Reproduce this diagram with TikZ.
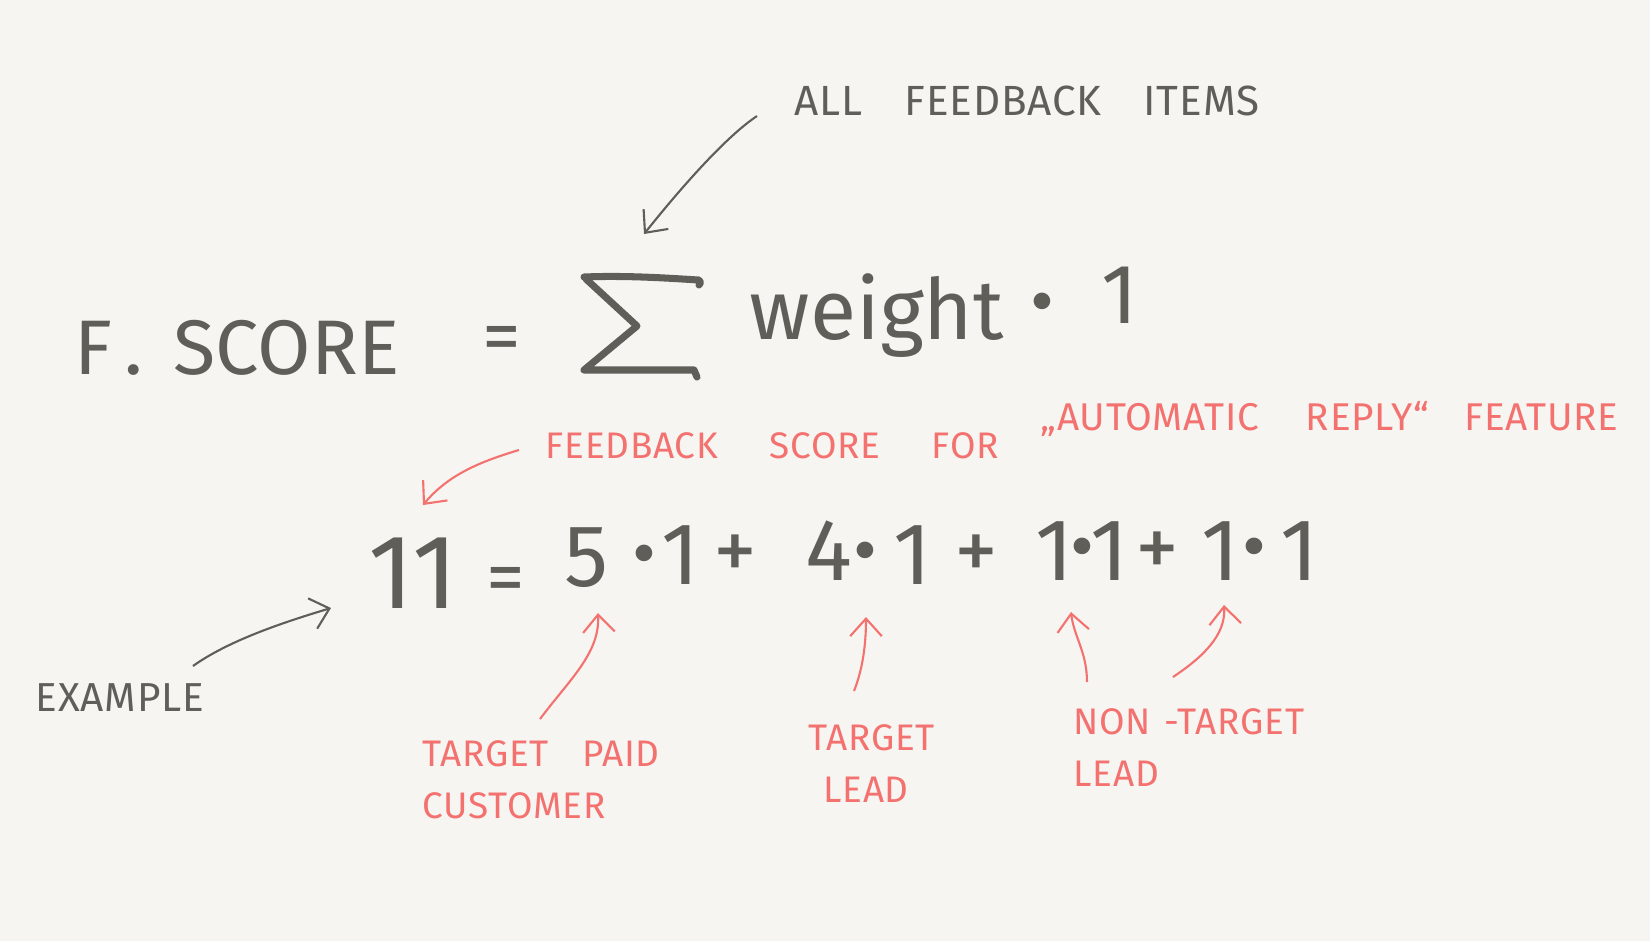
\documentclass[tikz,border=0pt]{standalone}
\usepackage{fontspec}
\setmainfont{Fira Sans}
\newfontfamily\labfont[LetterSpace=2]{Fira Sans}
\usetikzlibrary{arrows.meta}
\definecolor{ink}{RGB}{95,94,89}
\definecolor{redink}{RGB}{243,114,112}
\definecolor{paper}{RGB}{246,245,241}
\begin{document}
\begin{tikzpicture}[x=0.01cm,y=-0.01cm,
  glab/.style={text=ink,font=\labfont\fontsize{12}{15}\selectfont,inner sep=0},
  exlab/.style={text=ink,font=\labfont\fontsize{11.5}{14}\selectfont,inner sep=0},
  rhead/.style={text=redink,font=\labfont\fontsize{11}{14}\selectfont,inner sep=0},
  rlab/.style={text=redink,font=\labfont\fontsize{10.5}{14.8}\selectfont,inner sep=0,align=left},
  formula/.style={text=ink,font=\fontsize{22}{30}\selectfont,inner sep=0,anchor=base},
  eqn/.style={text=ink,font=\fontsize{25}{30}\selectfont,inner sep=0,anchor=base},
  dotc/.style={text=ink,font=\bfseries\fontsize{26}{30}\selectfont,inner sep=0,anchor=center},
  barb/.style={-{Straight Barb[length=5pt,width=9pt]}},
  garrow/.style={draw=ink,line width=0.6pt,barb},
  rarrow/.style={draw=redink,line width=0.6pt,barb},
  sigma/.style={draw=ink,line width=2pt,line cap=round,line join=round}
]
\fill[paper] (0,0) rectangle (1650,941);
\useasboundingbox (0,0) rectangle (1650,941);

% top formula
\node[glab,anchor=west] (allfb) at (794,101) {ALL\hspace{1em}FEEDBACK\hspace{1em}ITEMS};
\node[formula,anchor=base west] (fscore) at (74,374) {F\hspace{0.15em}.\hspace{0.4em}SCORE};
\node[formula] (eqtop) at (502,362) {=};
\draw[sigma] (584,277) .. controls (630,275) and (680,279) .. (699,280) .. controls (701,281) and (701,284) .. (699,285);
\draw[sigma] (586,279) -- (637,326) -- (584,370) -- (694,370) -- (697,377);
\coordinate (sumtop) at (644,234);
\node[formula,font=\fontsize{24}{30}\selectfont,anchor=base west] (weight) at (749,339) {weight};
\node[dotc] (wdot) at (1042,311) {·};
\node[formula,font=\fontsize{24}{30}\selectfont] (wone) at (1120,323) {1};

% red header
\node[rhead,anchor=west,font=\labfont\fontsize{10.5}{14}\selectfont] (fsfor) at (545,446) {FEEDBACK\hspace{1.4em}SCORE\hspace{1.4em}FOR};
\node[rhead,anchor=base west] (feat) at (1040,430) {„AUTOMATIC\hspace{1.2em}REPLY“\hspace{0.9em}FEATURE};

% example equation
\node[eqn,font=\fontsize{30}{34}\selectfont] (eleven) at (413,608) {11};
\node[eqn,font=\fontsize{22}{30}\selectfont] (eqa) at (506,603) {=};
\node[eqn] (n5) at (587,586) {5};
\node[dotc] (d1) at (644,563) {·};
\node[eqn] (n1a) at (681,584) {1};
\node[eqn] (p1) at (735,580) {+};
\node[eqn] (n4) at (829,580) {4};
\node[dotc] (d2) at (865,560) {·};
\node[eqn] (n1b) at (913,584) {1};
\node[eqn] (p2) at (976,580) {+};
\node[eqn] (n1c) at (1055,580) {1};
\node[dotc] (d3) at (1082,556) {·};
\node[eqn] (n1d) at (1110,580) {1};
\node[eqn] (p3) at (1157,577) {+};
\node[eqn] (n1e) at (1221,580) {1};
\node[dotc] (d4) at (1254,556) {·};
\node[eqn] (n1f) at (1300,580) {1};

\node[exlab,anchor=west] (example) at (35,698) {EXAMPLE};

\node[rlab,anchor=north west] (tpc) at (422,740) {TARGET\hspace{0.9em}PAID\\CUSTOMER};
\node[rlab,anchor=north west] (tl) at (808,724) {TARGET\\\hspace{0.4em}LEAD};
\node[rlab,anchor=north west] (ntl) at (1073,708) {NON\hspace{0.35em}-TARGET\\LEAD};

% connectors
\draw[garrow] ([shift={(-37,15)}]allfb.west) .. controls +(-30,20) and +(40,-50) .. (sumtop);
\draw[rarrow] ([shift={(-26,4)}]fsfor.west) .. controls +(-40,12) and +(25,-30) .. ([shift={(10,-103)}]eleven.base);
\draw[garrow] ([shift={(158,-32)}]example.west) .. controls +(35,-25) and +(-50,15) .. ([shift={(-82,0)}]eleven.base);
\draw[rarrow] ([shift={(118,-21)}]tpc.north west) .. controls +(30,-40) and +(2,40) .. ([shift={(11,27)}]n5.base);
\draw[rarrow] ([shift={(46,-33)}]tl.north west) .. controls +(8,-20) and +(0,30) .. ([shift={(37,37)}]n4.base);
\draw[rarrow] ([shift={(14,-26)}]ntl.north west) .. controls +(0,-30) and +(3,25) .. ([shift={(16,32)}]n1c.base);
\draw[rarrow] ([shift={(100,-31)}]ntl.north west) .. controls +(30,-20) and +(2,30) .. ([shift={(3,25)}]n1e.base);
\end{tikzpicture}
\end{document}
